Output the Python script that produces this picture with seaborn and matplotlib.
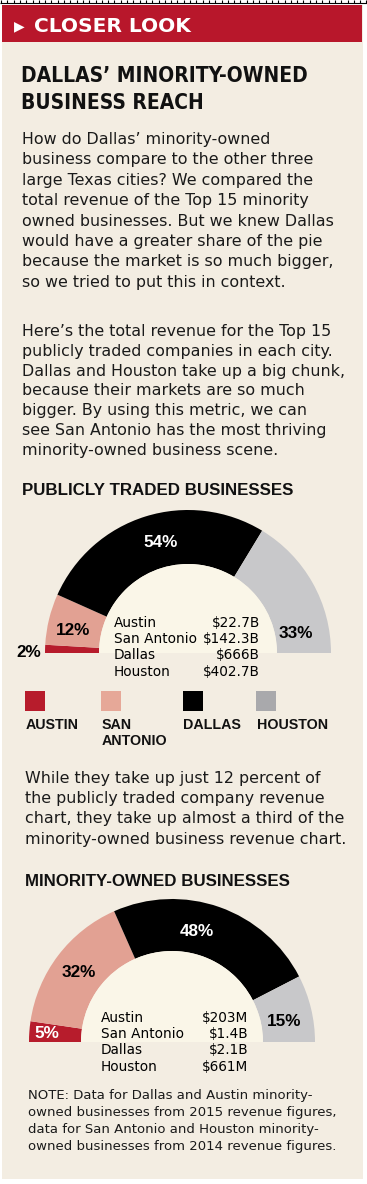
import numpy as np
import matplotlib.pyplot as plt
import seaborn as sns
from matplotlib import font_manager
from matplotlib.patches import Rectangle, Wedge

# Data
cities = ['Austin', 'San Antonio', 'Dallas', 'Houston']
legend_labels = ['AUSTIN', 'SAN\nANTONIO', 'DALLAS', 'HOUSTON']
public_revenue = [22.7, 142.3, 666.0, 402.7]        # $ billions
public_text = ['$22.7B', '$142.3B', '$666B', '$402.7B']
minority_revenue = [0.203, 1.4, 2.1, 0.661]         # $ billions
minority_text = ['$203M', '$1.4B', '$2.1B', '$661M']

donut_colors = sns.color_palette(['#b71c2c', '#e2a193', '#000000', '#c8c8ca'])
legend_colors = sns.color_palette(['#b71c2c', '#e6a898', '#000000', '#a9a9ac'])
beige = '#f3ede2'
cream = '#faf6e8'
red = '#b8172b'

W, H = 367, 1184

sns.set_theme(style='white')
plt.rcParams['font.family'] = ['DejaVu Sans']

names = {f.name for f in font_manager.fontManager.ttflist}
if 'Liberation Sans Narrow' in names:
    title_font = dict(family='Liberation Sans Narrow', weight='bold', fontsize=18)
else:
    title_font = dict(family='DejaVu Sans', weight='bold', stretch='condensed', fontsize=15)
bold_font = 'Liberation Sans' if 'Liberation Sans' in names else 'DejaVu Sans'

fig = plt.figure(figsize=(W / 100, H / 100), dpi=100)
fig.patch.set_facecolor('white')

# background layer
bg = fig.add_axes([0, 0, 1, 1], zorder=0)
bg.set_xlim(0, W)
bg.set_ylim(H, 0)
bg.axis('off')
bg.add_patch(Rectangle((2, 5), 361, 1174, facecolor=beige, lw=0))
bg.add_patch(Rectangle((2, 5), 360, 37, facecolor=red, lw=0))
bg.hlines(2.5, 0, W, color='black', lw=0.8)
bg.vlines(np.arange(1, W, 6.3), 0, 2.5, color='black', lw=0.8)

# top text layer
ov = fig.add_axes([0, 0, 1, 1], zorder=3)
ov.set_xlim(0, W)
ov.set_ylim(H, 0)
ov.axis('off')
ov.patch.set_alpha(0)


def donut(cx, cy, values, r_in, R=143):
    ax = fig.add_axes([(cx - R) / W, (H - cy - R) / H, 2 * R / W, 2 * R / H], zorder=1)
    fracs = np.array(values) / sum(values) / 2
    ax.pie(fracs, radius=1, startangle=180, counterclock=False, normalize=False,
           colors=donut_colors, wedgeprops=dict(width=1 - r_in / R, linewidth=0))
    ax.add_patch(Wedge((0, 0), r_in / R, 0, 180, facecolor=cream, lw=0))
    ax.set_xlim(-1, 1)
    ax.set_ylim(-1, 1)
    ax.axis('off')
    return np.array(values) / sum(values) * 100


def pct_labels(pcts, pos, colors):
    for p, (x, y), c in zip(pcts, pos, colors):
        ov.text(x, y, f'{p:.0f}%', ha='center', va='baseline', color=c,
                fontsize=12.3, fontweight='bold', family=bold_font)


def value_table(texts, x0, x1, y0, dy=16.3):
    for i, (name, val) in enumerate(zip(cities, texts)):
        ov.text(x0, y0 + i * dy, name, ha='left', va='baseline', fontsize=9.8, color='black')
        ov.text(x1, y0 + i * dy, val, ha='right', va='baseline', fontsize=9.8, color='black')


def para(text, x, y0, dy, size=11.4):
    for i, line in enumerate(text.split('\n')):
        ov.text(x, y0 + i * dy, line, ha='left', va='baseline', fontsize=size, color='#1a1a1a')


# header
ov.text(14, 30, '\u25B6', ha='left', va='baseline', fontsize=10, color='white')
ov.text(34, 32, 'CLOSER LOOK', ha='left', va='baseline', fontsize=14.5,
        fontweight='bold', color='white')
ov.text(21, 82, 'DALLAS\u2019 MINORITY-OWNED', ha='left', va='baseline',
        color='#111111', **title_font)
ov.text(21, 109, 'BUSINESS REACH', ha='left', va='baseline',
        color='#111111', **title_font)

para('How do Dallas\u2019 minority-owned\n'
     'business compare to the other three\n'
     'large Texas cities? We compared the\n'
     'total revenue of the Top 15 minority\n'
     'owned businesses. But we knew Dallas\n'
     'would have a greater share of the pie\n'
     'because the market is so much bigger,\n'
     'so we tried to put this in context.', 21.5, 144, 20.4)

para('Here\u2019s the total revenue for the Top 15\n'
     'publicly traded companies in each city.\n'
     'Dallas and Houston take up a big chunk,\n'
     'because their markets are so much\n'
     'bigger. By using this metric, we can\n'
     'see San Antonio has the most thriving\n'
     'minority-owned business scene.', 21.5, 336, 19.8)

ov.text(22, 495, 'PUBLICLY TRADED BUSINESSES', ha='left', va='baseline', fontsize=12.2,
        fontweight='bold', family=bold_font, color='#111111')

# chart 1
p1 = donut(188, 653, public_revenue, 89)
pct_labels(p1, [(29, 656.7), (73, 635), (160.5, 547), (296, 638.3)],
           ['black', 'black', 'white', 'black'])
value_table(public_text, 114, 260, 626.7)

# legend
for lab, col, x in zip(legend_labels, legend_colors, [25, 101, 183, 256]):
    bg.add_patch(Rectangle((x, 691), 19.5, 19.5, facecolor=col, lw=0))
    ov.text(x + 0.5, 729, lab.split('\n')[0], ha='left', va='baseline', fontsize=10.3,
            fontweight='bold', family=bold_font, color='#111111')
    if '\n' in lab:
        ov.text(x + 0.5, 745, lab.split('\n')[1], ha='left', va='baseline', fontsize=10.3,
                fontweight='bold', family=bold_font, color='#111111')

para('While they take up just 12 percent of\n'
     'the publicly traded company revenue\n'
     'chart, they take up almost a third of the\n'
     'minority-owned business revenue chart.', 25, 782.7, 20.4)

ov.text(25, 886, 'MINORITY-OWNED BUSINESSES', ha='left', va='baseline', fontsize=12.2,
        fontweight='bold', family=bold_font, color='#111111')

# chart 2
p2 = donut(172, 1042, minority_revenue, 91)
pct_labels(p2, [(47, 1038), (79, 976.7), (196.5, 936), (284, 1026)],
           ['white', 'black', 'white', 'black'])
value_table(minority_text, 101, 248, 1021.7)

para('NOTE: Data for Dallas and Austin minority-\n'
     'owned businesses from 2015 revenue figures,\n'
     'data for San Antonio and Houston minority-\n'
     'owned businesses from 2014 revenue figures.', 28, 1099, 17, size=9.5)

fig.savefig('out.png', dpi=100, facecolor=fig.get_facecolor())
